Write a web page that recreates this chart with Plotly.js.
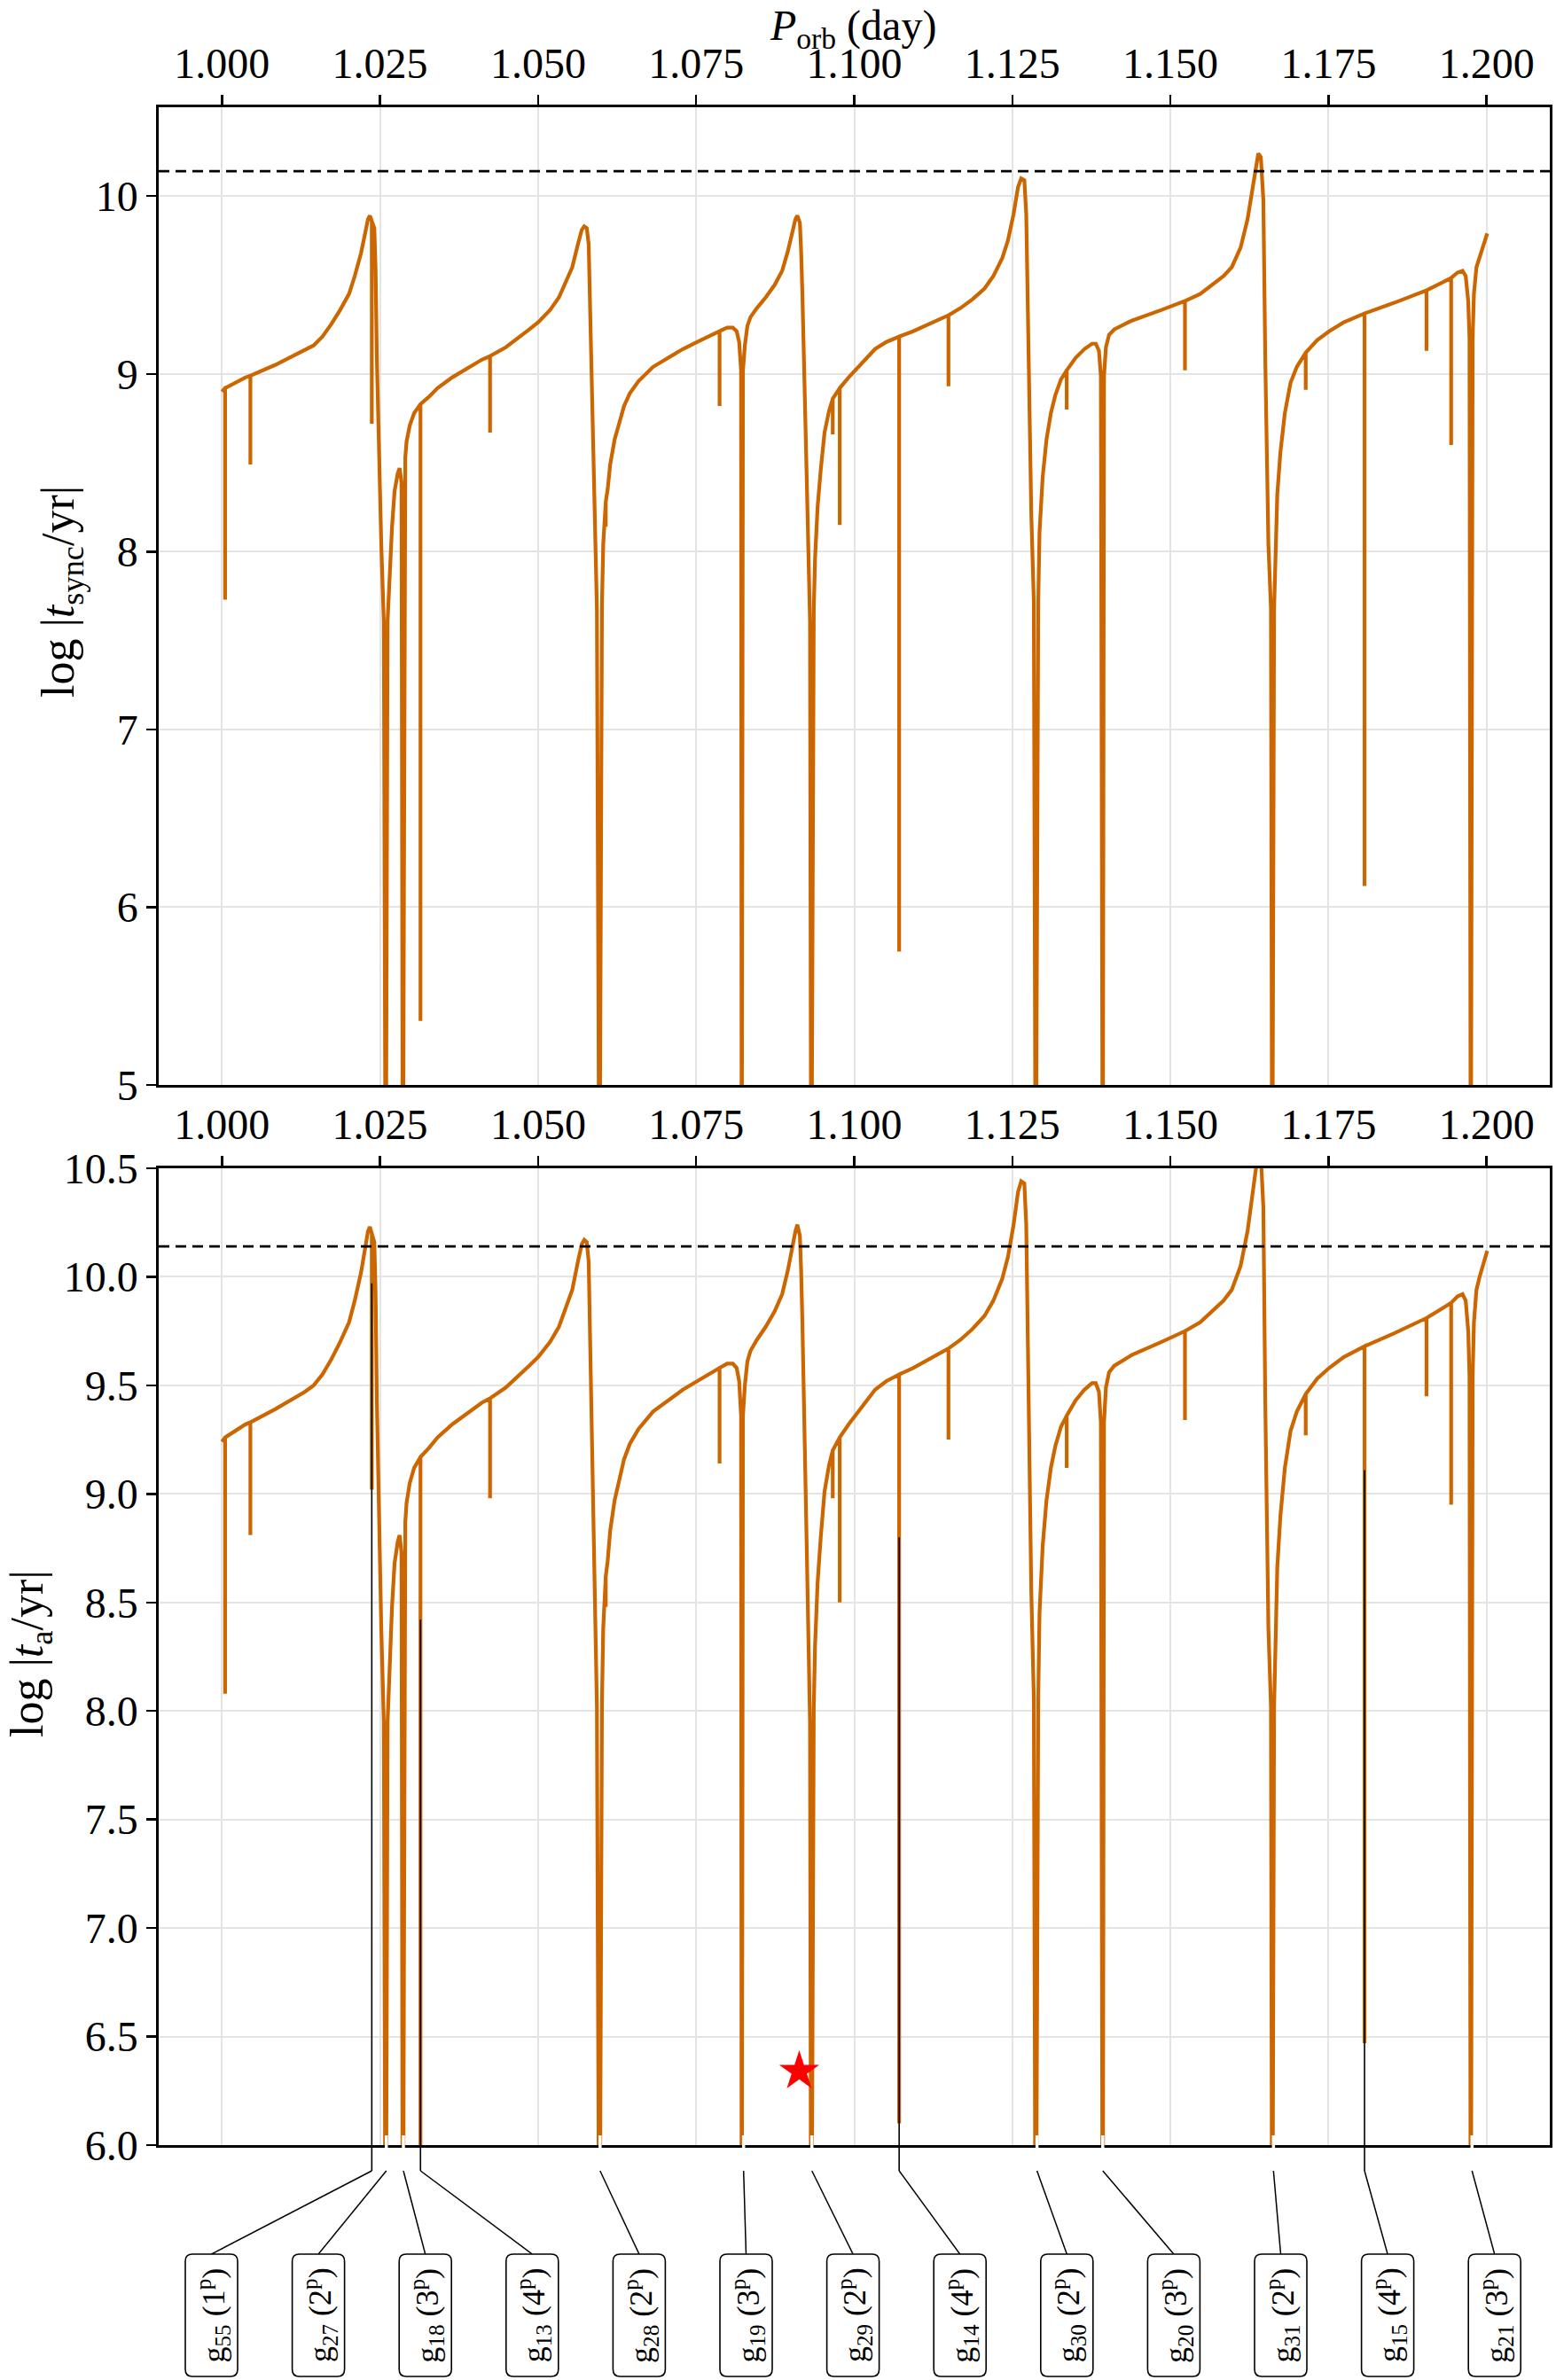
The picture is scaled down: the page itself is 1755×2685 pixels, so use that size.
<!DOCTYPE html>
<html>
<head>
<meta charset="utf-8">
<script src="https://cdn.plot.ly/plotly-3.0.1.min.js"></script>
<style>html,body{margin:0;padding:0;background:#fff;}#chart{width:1755px;height:2685px;}</style>
</head>
<body>
<div id="chart"></div>
<script>
// Orbital period grid (days)
const periods = [
1.0000,1.0005,1.0005,1.0005,1.0037,1.0045,1.0045,1.0045,1.0084,1.0107,
1.0131,1.0145,1.0159,1.0173,1.0187,1.0201,1.0210,1.0220,1.0227,1.0231,
1.0234,1.0237,1.0237,1.0237,1.0241,1.0243,1.0245,1.0249,1.0252,1.0256,
1.0259,1.0262,1.0265,1.0269,1.0273,1.0278,1.0281,1.0284,1.0286,1.0290,
1.0292,1.0297,1.0304,1.0314,1.0314,1.0314,1.0327,1.0341,1.0364,1.0388,
1.0411,1.0424,1.0424,1.0424,1.0449,1.0472,1.0486,1.0500,1.0519,1.0533,
1.0544,1.0554,1.0563,1.0569,1.0573,1.0577,1.0580,1.0584,1.0589,1.0593,
1.0597,1.0601,1.0603,1.0606,1.0607,1.0607,1.0607,1.0610,1.0614,1.0621,
1.0629,1.0636,1.0645,1.0659,1.0682,1.0706,1.0729,1.0752,1.0776,1.0787,
1.0787,1.0787,1.0799,1.0808,1.0814,1.0818,1.0821,1.0822,1.0824,1.0827,
1.0831,1.0836,1.0846,1.0860,1.0874,1.0886,1.0895,1.0902,1.0907,1.0910,
1.0914,1.0916,1.0918,1.0925,1.0930,1.0932,1.0936,1.0938,1.0942,1.0947,
1.0953,1.0960,1.0966,1.0966,1.0966,1.0977,1.0977,1.0977,1.0991,1.1009,
1.1033,1.1051,1.1071,1.1071,1.1071,1.1093,1.1117,1.1136,1.1149,1.1149,
1.1149,1.1168,1.1187,1.1206,1.1220,1.1234,1.1243,1.1252,1.1259,1.1264,
1.1269,1.1272,1.1276,1.1280,1.1284,1.1287,1.1291,1.1293,1.1298,1.1304,
1.1311,1.1318,1.1327,1.1336,1.1336,1.1336,1.1350,1.1364,1.1376,1.1382,
1.1387,1.1390,1.1393,1.1395,1.1398,1.1403,1.1411,1.1439,1.1486,1.1523,
1.1523,1.1523,1.1547,1.1570,1.1584,1.1597,1.1611,1.1622,1.1632,1.1639,
1.1643,1.1647,1.1650,1.1655,1.1659,1.1661,1.1664,1.1666,1.1669,1.1674,
1.1681,1.1690,1.1700,1.1714,1.1714,1.1714,1.1732,1.1751,1.1774,1.1807,
1.1807,1.1807,1.1854,1.1905,1.1905,1.1905,1.1933,1.1944,1.1944,1.1944,
1.1954,1.1962,1.1967,1.1971,1.1973,1.1975,1.1978,1.1980,1.1984,1.1989,
1.2001];

// log |t_sync / yr|
const logTsync = [
8.90,8.92,7.73,8.92,8.98,8.99,8.49,8.99,9.05,9.09,
9.13,9.16,9.21,9.28,9.36,9.45,9.55,9.68,9.80,9.87,
9.89,9.86,8.72,9.86,9.82,9.59,9.09,8.46,8.04,7.61,
4.00,7.61,7.89,8.14,8.34,8.44,8.47,8.39,4.00,8.53,
8.62,8.71,8.78,8.83,5.36,8.83,8.87,8.92,8.98,9.03,
9.08,9.10,8.67,9.10,9.15,9.21,9.25,9.29,9.36,9.43,
9.52,9.60,9.73,9.81,9.83,9.82,9.73,9.09,8.39,7.68,
4.00,7.70,8.04,8.25,8.28,8.14,8.28,8.35,8.49,8.63,
8.74,8.82,8.89,8.96,9.04,9.09,9.14,9.18,9.22,9.24,
8.82,9.24,9.26,9.26,9.24,9.18,9.02,4.00,9.02,9.16,
9.27,9.32,9.37,9.43,9.50,9.58,9.69,9.80,9.87,9.89,
9.85,9.69,9.45,8.39,7.61,4.00,7.68,7.96,8.25,8.46,
8.67,8.79,8.86,8.66,8.86,8.92,8.15,8.92,8.98,9.05,
9.14,9.18,9.21,5.75,9.21,9.24,9.28,9.31,9.33,8.93,
9.33,9.37,9.42,9.48,9.55,9.65,9.75,9.90,10.05,10.10,
10.09,9.90,9.09,8.21,7.72,4.00,7.72,8.11,8.42,8.63,
8.78,8.88,8.97,9.02,8.80,9.02,9.09,9.14,9.17,9.17,
9.13,8.99,4.00,8.99,9.15,9.22,9.25,9.30,9.36,9.41,
9.02,9.41,9.45,9.51,9.55,9.60,9.71,9.87,10.08,10.24,
10.22,9.98,9.09,8.04,7.68,4.00,7.68,8.04,8.32,8.56,
8.78,8.95,9.04,9.12,8.91,9.12,9.19,9.24,9.29,9.34,
6.12,9.34,9.40,9.47,9.13,9.47,9.52,9.54,8.60,9.54,
9.57,9.58,9.55,9.41,9.20,4.00,9.20,9.45,9.60,9.66,
9.79];

// log |t_a / yr|
const logTa = [
9.24,9.26,8.08,9.26,9.32,9.33,8.81,9.33,9.39,9.43,
9.47,9.50,9.55,9.62,9.70,9.79,9.89,10.02,10.14,10.21,
10.23,10.20,9.02,10.20,10.16,9.93,9.43,8.80,8.38,7.95,
5.00,7.95,8.23,8.48,8.68,8.78,8.81,8.73,5.00,8.87,
8.96,9.05,9.12,9.17,5.70,9.17,9.21,9.26,9.32,9.37,
9.42,9.44,8.98,9.44,9.49,9.55,9.59,9.63,9.70,9.77,
9.86,9.94,10.07,10.15,10.17,10.16,10.07,9.43,8.73,8.02,
5.00,8.04,8.38,8.59,8.62,8.48,8.62,8.69,8.83,8.97,
9.08,9.16,9.23,9.30,9.38,9.43,9.48,9.52,9.56,9.58,
9.14,9.58,9.60,9.60,9.58,9.52,9.36,5.00,9.36,9.50,
9.61,9.66,9.71,9.77,9.84,9.92,10.03,10.14,10.21,10.24,
10.19,10.03,9.79,8.73,7.95,5.00,8.02,8.30,8.59,8.80,
9.01,9.13,9.20,8.98,9.20,9.26,8.50,9.26,9.32,9.39,
9.48,9.52,9.55,6.10,9.55,9.58,9.62,9.65,9.67,9.25,
9.67,9.71,9.76,9.82,9.89,9.99,10.09,10.24,10.39,10.44,
10.43,10.24,9.43,8.55,8.06,5.00,8.06,8.45,8.76,8.97,
9.12,9.22,9.31,9.36,9.12,9.36,9.43,9.48,9.51,9.51,
9.47,9.33,5.00,9.33,9.49,9.56,9.59,9.64,9.70,9.75,
9.34,9.75,9.79,9.85,9.89,9.94,10.05,10.21,10.42,10.58,
10.56,10.32,9.43,8.38,8.02,5.00,8.02,8.38,8.66,8.90,
9.12,9.29,9.38,9.46,9.27,9.46,9.53,9.58,9.63,9.68,
6.47,9.68,9.74,9.81,9.45,9.81,9.86,9.88,8.95,9.88,
9.91,9.92,9.89,9.75,9.54,5.00,9.54,9.79,9.94,10.00,
10.12];

const ageUniverseLog = 10.14;
const starPeriod = [1.0913];
const starLogTa = [6.34];

// resonances (labels below the lower panel)
const resModes   = ['55','27','18','13','28','19','29','14','30','20','31','15','21'];
const resOrders  = ['1','2','3','4','2','3','2','4','2','3','2','4','3'];
const resPeriods = [1.0237,1.0260,1.0287,1.0314,1.0598,1.0825,1.0933,1.1071,1.1289,1.1393,1.1663,1.1807,1.1977];
const resMarkTop = [9.97,null,null,8.42,null,null,null,8.80,null,null,null,9.11,null];

const xTickVals = [1.000,1.025,1.050,1.075,1.100,1.125,1.150,1.175,1.200];
const XRANGE = [0.99, 1.21];
const Y1RANGE = [5, 10.5];
const Y2RANGE = [6, 10.5];

// ---------- layout helpers (pixel geometry of the figure) ----------
const W = 1755, H = 2685;
const L = 179, R = 1748, T = 121, B = 2420;
const PW = R - L, PH = B - T;
const xp = px => (px - L) / PW;
const yp = py => (B - py) / PH;
const dx = x => (x - XRANGE[0]) / (XRANGE[1] - XRANGE[0]);

const ORANGE = '#cc6600';
const FONT = 'Liberation Serif, Times New Roman, serif';

const traces = [
  {x: periods, y: logTsync, xaxis: 'x', yaxis: 'y', mode: 'lines',
   line: {color: ORANGE, width: 4.2}, hoverinfo: 'skip', showlegend: false},
  {x: periods, y: logTa, xaxis: 'x2', yaxis: 'y2', mode: 'lines',
   line: {color: ORANGE, width: 4.2}, hoverinfo: 'skip', showlegend: false}
];

// black marker lines inside lower panel
resPeriods.forEach((p, i) => {
  if (resMarkTop[i] !== null) {
    traces.push({x: [p, p], y: [Y2RANGE[0], resMarkTop[i]], xaxis: 'x2', yaxis: 'y2',
      mode: 'lines', line: {color: '#000', width: 1.6}, hoverinfo: 'skip', showlegend: false});
  }
});

traces.push({x: starPeriod, y: starLogTa, xaxis: 'x2', yaxis: 'y2', mode: 'markers',
  marker: {symbol: 'star', size: 34, color: 'red', line: {width: 0}},
  hoverinfo: 'skip', showlegend: false});

const shapes = [];
const annotations = [];

// dashed age-of-universe lines
shapes.push({type: 'line', xref: 'paper', yref: 'y', x0: 0, x1: 1, y0: ageUniverseLog, y1: ageUniverseLog,
  line: {color: '#000', width: 2.8, dash: '12px,7px'}, layer: 'above'});
shapes.push({type: 'line', xref: 'paper', yref: 'y2', x0: 0, x1: 1, y0: ageUniverseLog, y1: ageUniverseLog,
  line: {color: '#000', width: 2.8, dash: '12px,7px'}, layer: 'above'});

// resonance label boxes
const boxTop = 2543, boxBot = 2681, boxW = 59, elbowY = 2449, rad = 8;
resModes.forEach((m, i) => {
  const cx = 238.5 + 120.6 * i;
  const ex = dx(resPeriods[i]);
  shapes.push({type: 'line', xref: 'paper', yref: 'paper', x0: xp(cx), y0: yp(boxTop), x1: ex, y1: yp(elbowY),
    line: {color: '#000', width: 1.5}, layer: 'above'});
  if (resMarkTop[i] !== null) {
    shapes.push({type: 'line', xref: 'paper', yref: 'paper', x0: ex, y0: yp(elbowY), x1: ex, y1: 0,
      line: {color: '#000', width: 1.6}, layer: 'above'});
  } else {
    shapes.push({type: 'line', xref: 'paper', yref: 'paper', x0: ex, y0: yp(elbowY - 14), x1: ex, y1: yp(2409),
      line: {color: '#fff', width: 3.5}, layer: 'above'});
  }
  const x0 = cx - boxW / 2, x1 = cx + boxW / 2, y0 = boxTop, y1 = boxBot;
  const P = (a, b) => xp(a).toFixed(6) + ',' + yp(b).toFixed(6);
  const path = 'M' + P(x0 + rad, y0) + ' L' + P(x1 - rad, y0) + ' Q' + P(x1, y0) + ' ' + P(x1, y0 + rad) +
    ' L' + P(x1, y1 - rad) + ' Q' + P(x1, y1) + ' ' + P(x1 - rad, y1) +
    ' L' + P(x0 + rad, y1) + ' Q' + P(x0, y1) + ' ' + P(x0, y1 - rad) +
    ' L' + P(x0, y0 + rad) + ' Q' + P(x0, y0) + ' ' + P(x0 + rad, y0) + ' Z';
  shapes.push({type: 'path', xref: 'paper', yref: 'paper', path: path,
    line: {color: '#000', width: 1.6}, fillcolor: '#fff', layer: 'above'});
  annotations.push({xref: 'paper', yref: 'paper', x: xp(cx + 2), y: yp((boxTop + boxBot) / 2),
    text: 'g<sub>' + m + '</sub> (' + resOrders[i] + '<sup>p</sup>)', textangle: -90,
    showarrow: false, xanchor: 'center', yanchor: 'middle',
    font: {family: FONT, size: 36, color: '#000'}});
});

// axis titles
annotations.push({xref: 'paper', yref: 'paper', x: xp(962), y: yp(0), xanchor: 'center', yanchor: 'top',
  text: '<i>P</i><sub>orb</sub> (day)', showarrow: false, font: {family: FONT, size: 48, color: '#000'}});
annotations.push({xref: 'paper', yref: 'paper', x: xp(70), y: yp(668), xanchor: 'center', yanchor: 'middle',
  textangle: -90, text: 'log |<i>t</i><sub>sync</sub>/yr|', showarrow: false,
  font: {family: FONT, size: 52, color: '#000'}});
annotations.push({xref: 'paper', yref: 'paper', x: xp(34), y: yp(1866), xanchor: 'center', yanchor: 'middle',
  textangle: -90, text: 'log |<i>t</i><sub>a</sub>/yr|', showarrow: false,
  font: {family: FONT, size: 52, color: '#000'}});

const axisCommon = {
  showline: true, mirror: true, linecolor: '#000', linewidth: 2.6,
  ticks: 'outside', ticklen: 11, tickwidth: 2.4, tickcolor: '#000',
  showgrid: true, gridcolor: '#e4e4e4', gridwidth: 2, zeroline: false,
  tickfont: {family: FONT, size: 48, color: '#000'}
};

const layout = {
  width: W, height: H,
  margin: {l: L, r: W - R, t: T, b: H - B, pad: 0},
  paper_bgcolor: '#fff', plot_bgcolor: '#fff',
  showlegend: false,
  xaxis: Object.assign({}, axisCommon, {anchor: 'y', side: 'top', range: XRANGE,
    tickvals: xTickVals, tickformat: '.3f', domain: [0, 1], ticklabelstandoff: 0}),
  xaxis2: Object.assign({}, axisCommon, {anchor: 'y2', side: 'top', range: XRANGE,
    tickvals: xTickVals, tickformat: '.3f', domain: [0, 1], ticklabelstandoff: 0}),
  yaxis: Object.assign({}, axisCommon, {anchor: 'x', range: Y1RANGE, tick0: 5, dtick: 1,
    tickformat: 'd', domain: [(B - 1224) / PH, 1], ticklabelstandoff: 0}),
  yaxis2: Object.assign({}, axisCommon, {anchor: 'x2', range: Y2RANGE, tick0: 6, dtick: 0.5,
    tickformat: '.1f', domain: [0, (B - 1318) / PH], ticklabelstandoff: 0}),
  shapes: shapes,
  annotations: annotations
};

Plotly.newPlot('chart', traces, layout, {staticPlot: true, displayModeBar: false});
</script>
</body>
</html>
